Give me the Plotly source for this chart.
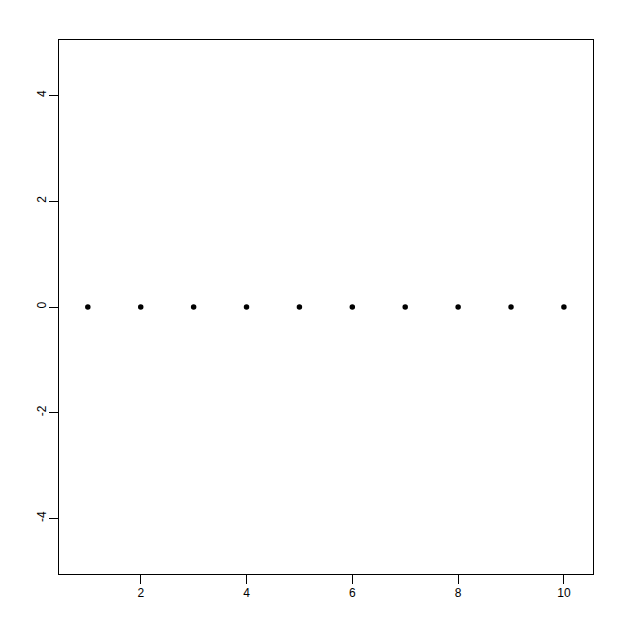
import plotly.graph_objects as go

x_values = [1, 2, 3, 4, 5, 6, 7, 8, 9, 10]
y_values = [0, 0, 0, 0, 0, 0, 0, 0, 0, 0]
x_ticks = [2, 4, 6, 8, 10]
y_ticks = [-4, -2, 0, 2, 4]

fig = go.Figure()
fig.add_trace(go.Scatter(
    x=x_values, y=y_values, mode="markers",
    marker=dict(color="black", size=5.5, line=dict(width=0)),
    showlegend=False, hoverinfo="skip",
))

axis_common = dict(
    showgrid=False, zeroline=False, showline=True, linecolor="black",
    linewidth=1, mirror=True, ticks="outside", ticklen=9, tickwidth=1,
    tickcolor="black", tickfont=dict(family="Liberation Sans, Arial", size=12, color="black"),
)

fig.update_xaxes(range=[0.455, 10.55], tickvals=x_ticks, ticktext=[str(v) for v in x_ticks],
                 ticklabelstandoff=-1, **axis_common)
fig.update_yaxes(range=[-5.05, 5.05], tickvals=y_ticks, ticktext=[str(v) for v in y_ticks],
                 tickangle=-90, ticklabelstandoff=-2, **axis_common)

fig.update_layout(
    width=634, height=633,
    margin=dict(l=51, r=49, t=32, b=67),
    paper_bgcolor="white", plot_bgcolor="white",
)

fig.write_html("out.html")
